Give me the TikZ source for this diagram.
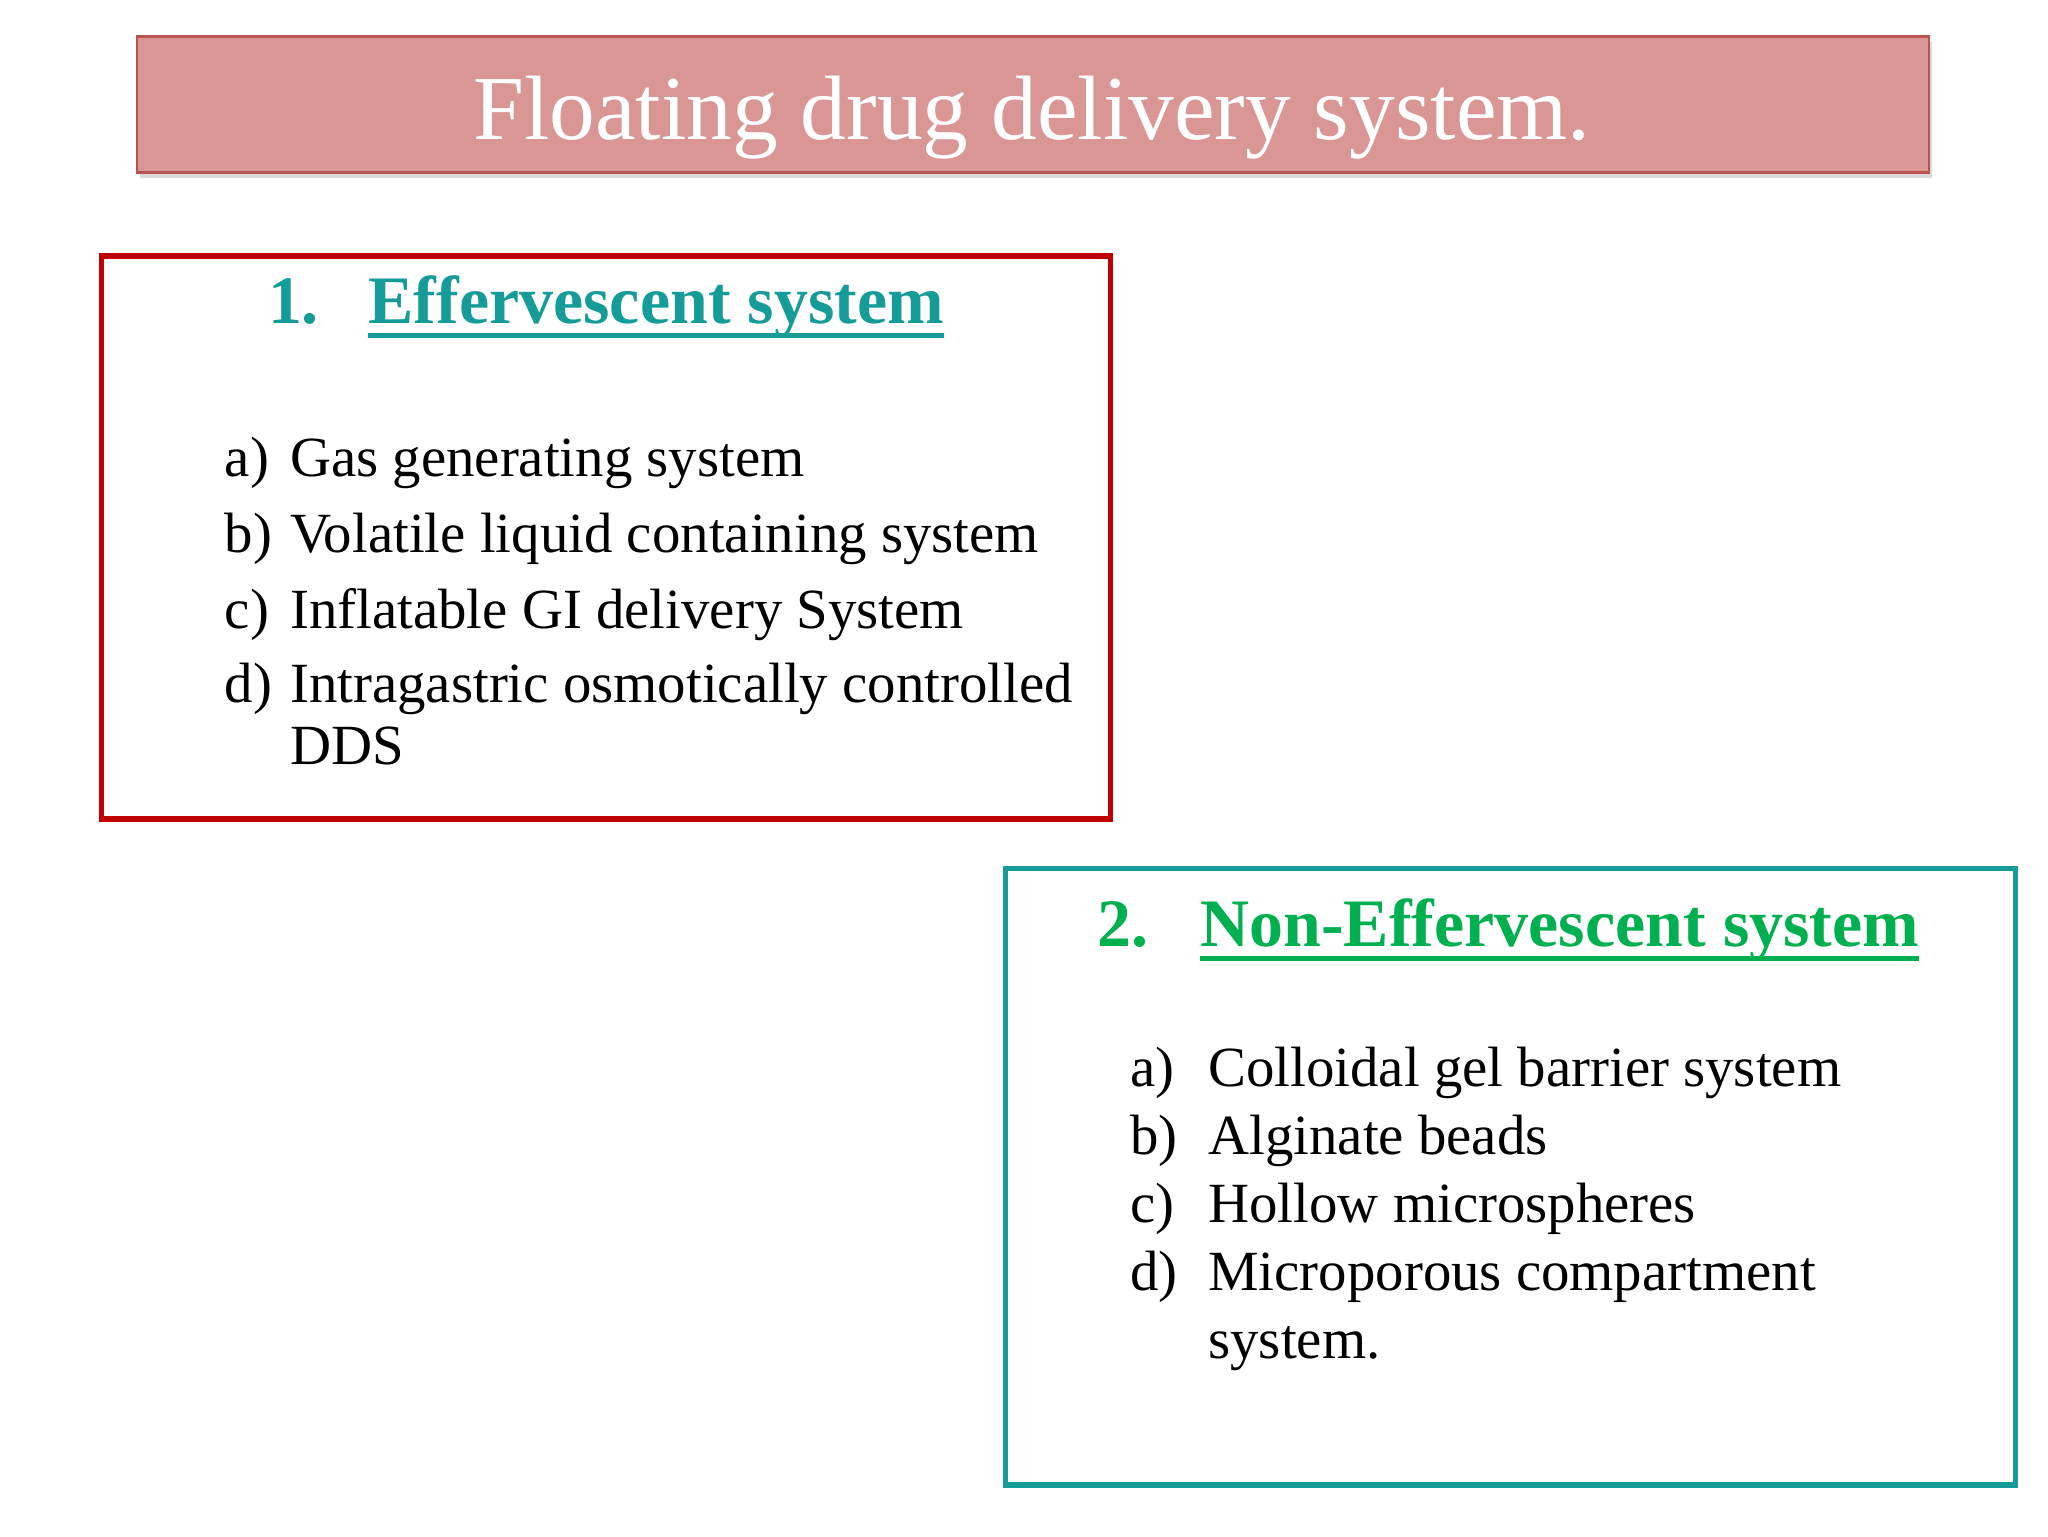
\documentclass[tikz,border=0pt]{standalone}
\usepackage{fontspec}
\setmainfont{Liberation Serif}
\usetikzlibrary{shadows}
\definecolor{titlefill}{HTML}{D99694}
\definecolor{titleedge}{HTML}{B85450}
\definecolor{redbox}{HTML}{C00000}
\definecolor{tealbox}{HTML}{169C98}
\definecolor{headteal}{HTML}{169C98}
\definecolor{headgreen}{HTML}{00B050}
\tikzset{
  item/.style={anchor=base west,inner sep=0pt,font=\fontsize{43.5}{43.5}\selectfont},
  head/.style={anchor=base west,inner sep=0pt,font=\fontsize{52}{52}\selectfont\bfseries}
}
\begin{document}
\begin{tikzpicture}[x=1pt,y=-1pt]
\useasboundingbox (0,0) rectangle (1568,1176);
\node[draw=titleedge,line width=2pt,fill=titlefill,minimum width=1372pt,minimum height=104pt,anchor=north west,
  drop shadow={shadow xshift=2pt,shadow yshift=-4pt,opacity=0.3}] (title) at (104,27) {};
\node[text=white,font=\fontsize{70}{70}\selectfont] (tt) at (790,90) {Floating drug delivery system.};
% box 1
\draw[redbox,line width=4pt] (78,196) rectangle (850,627);
\node[head,text=headteal] (n1) at (205,248) {1.};
\node[head,text=headteal] (h1) at (282,248) {Effervescent system};
\draw[headteal,line width=3.5pt] ([yshift=-9pt]h1.base west) -- ([yshift=-9pt]h1.base east);
\node[item] (a1) at (172,365) {a)}; \node[item] (ta1) at (222,365) {Gas generating system};
\node[item] (b1) at (172,423) {b)}; \node[item] (tb1) at (222,423) {Volatile liquid containing system};
\node[item] (c1) at (172,481) {c)}; \node[item] (tc1) at (222,481) {Inflatable GI delivery System};
\node[item] (d1) at (172,538) {d)}; \node[item] (td1) at (222,538) {Intragastric osmotically controlled};
\node[item] (e1) at (222,585) {DDS};
% box 2
\draw[tealbox,line width=4pt] (770,665) rectangle (1543,1137);
\node[head,text=headgreen] (n2) at (840,725) {2.};
\node[head,text=headgreen] (h2) at (919,725) {Non-Effervescent system};
\draw[headgreen,line width=3.5pt] ([yshift=-9pt]h2.base west) -- ([yshift=-9pt]h2.base east);
\node[item] (a2) at (865,832) {a)}; \node[item] (ta2) at (925,832) {Colloidal gel barrier system};
\node[item] (b2) at (865,884) {b)}; \node[item] (tb2) at (925,884) {Alginate beads};
\node[item] (c2) at (865,936) {c)}; \node[item] (tc2) at (925,936) {Hollow microspheres};
\node[item] (d2) at (865,988) {d)}; \node[item] (td2) at (925,988) {Microporous compartment};
\node[item] (e2) at (925,1040) {system.};
\end{tikzpicture}
\end{document}
